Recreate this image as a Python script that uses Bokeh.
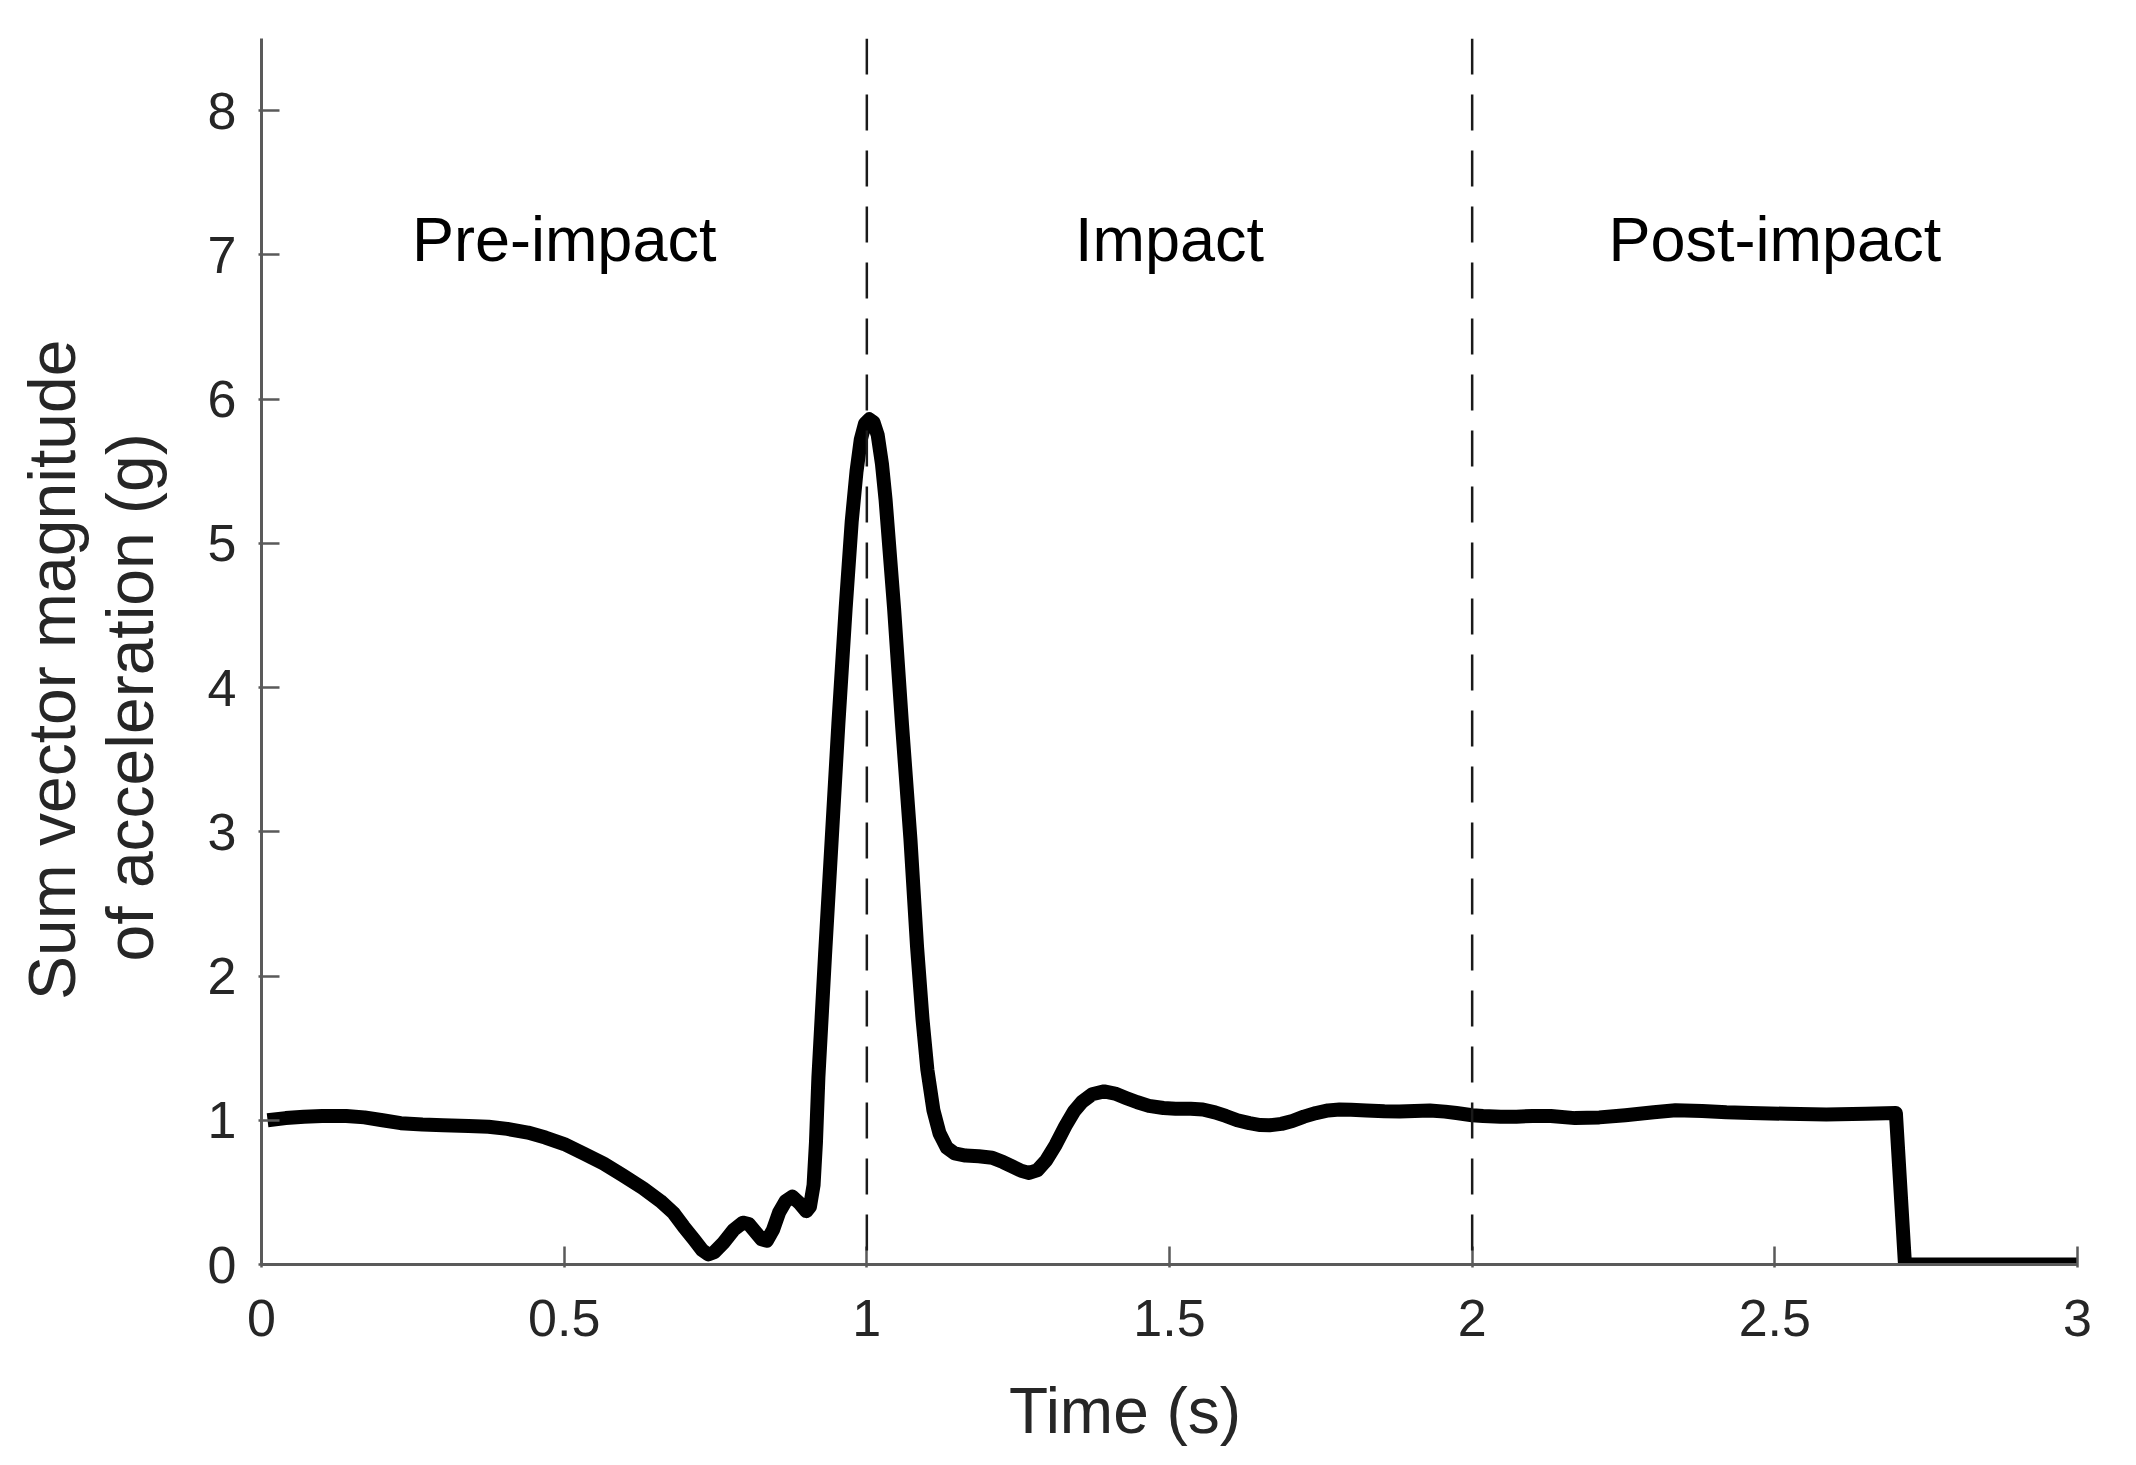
from bokeh.plotting import figure
from bokeh.models import Range1d, Span, FixedTicker, Label
from bokeh.embed import file_html
from bokeh.resources import INLINE

# Time (s)
time_s = [0.01, 0.04, 0.07, 0.10, 0.14, 0.17, 0.20, 0.23, 0.266, 0.30,
          0.342, 0.375, 0.406, 0.44, 0.469, 0.50, 0.532, 0.565, 0.596, 0.63,
          0.659, 0.68, 0.697, 0.715, 0.728, 0.738, 0.748, 0.763, 0.78, 0.795,
          0.805, 0.817, 0.826, 0.835, 0.845, 0.855, 0.866, 0.877, 0.89, 0.900,
          0.906, 0.912, 0.916, 0.920, 0.931, 0.942, 0.953, 0.965, 0.975, 0.983,
          0.990, 0.997, 1.004, 1.011, 1.018, 1.025, 1.031, 1.045, 1.058, 1.072,
          1.083, 1.092, 1.100, 1.110, 1.120, 1.132, 1.145, 1.163, 1.185, 1.207,
          1.225, 1.240, 1.255, 1.268, 1.282, 1.296, 1.312, 1.328, 1.342, 1.356,
          1.372, 1.392, 1.41, 1.428, 1.447, 1.466, 1.49, 1.51, 1.535, 1.555,
          1.575, 1.593, 1.612, 1.632, 1.650, 1.665, 1.685, 1.703, 1.722, 1.742,
          1.762, 1.781, 1.80, 1.825, 1.855, 1.880, 1.905, 1.930, 1.955, 1.974,
          2.0, 2.018, 2.047, 2.073, 2.10, 2.13, 2.17, 2.21, 2.253, 2.30,
          2.336, 2.38, 2.42, 2.46, 2.52, 2.585, 2.65, 2.70, 2.715, 3.0]
# Sum vector magnitude of acceleration (g)
svm_g = [1.0, 1.015, 1.025, 1.03, 1.03, 1.02, 1.0, 0.98, 0.97, 0.965,
         0.96, 0.955, 0.94, 0.915, 0.88, 0.835, 0.77, 0.70, 0.62, 0.53,
         0.44, 0.36, 0.265, 0.17, 0.10, 0.07, 0.085, 0.15, 0.24, 0.29,
         0.28, 0.22, 0.175, 0.165, 0.24, 0.36, 0.44, 0.47, 0.42, 0.37,
         0.40, 0.55, 0.85, 1.3, 2.15, 2.95, 3.75, 4.55, 5.15, 5.5,
         5.72, 5.83, 5.86, 5.84, 5.75, 5.55, 5.3, 4.55, 3.75, 2.95,
         2.2, 1.7, 1.35, 1.07, 0.91, 0.81, 0.77, 0.755, 0.75, 0.74,
         0.71, 0.68, 0.65, 0.635, 0.655, 0.72, 0.83, 0.96, 1.06, 1.13,
         1.18, 1.20, 1.185, 1.155, 1.125, 1.10, 1.085, 1.08, 1.08, 1.075,
         1.055, 1.03, 1.0, 0.98, 0.967, 0.965, 0.975, 0.995, 1.025, 1.05,
         1.068, 1.075, 1.073, 1.068, 1.062, 1.06, 1.065, 1.068, 1.06, 1.05,
         1.035, 1.03, 1.025, 1.025, 1.03, 1.03, 1.015, 1.02, 1.035, 1.055,
         1.07, 1.065, 1.055, 1.05, 1.045, 1.04, 1.045, 1.05, 0.0, 0.0]

phase_names = ["Pre-impact", "Impact", "Post-impact"]
phase_centers = [0.5, 1.5, 2.5]
phase_boundaries = [1.0, 2.0]

x_ticks = [0, 0.5, 1, 1.5, 2, 2.5, 3]
x_tick_labels = ["0", "0.5", "1", "1.5", "2", "2.5", "3"]
y_ticks = [0, 1, 2, 3, 4, 5, 6, 7, 8]

NB = "\u00a0"
x_title = "Time (s)" + NB * 5
y_title = "Sum vector magnitude" + NB * 2 + "\n" + "of acceleration (g)" + NB * 5

FONT = "Liberation Sans"
TXT = "#262626"

p = figure(frame_width=1816, frame_height=1226,
           x_range=Range1d(0, 3), y_range=Range1d(0, 8.5),
           output_backend="svg", toolbar_location=None,
           min_border_left=261, min_border_right=51,
           min_border_top=38, min_border_bottom=193)

p.outline_line_color = None
p.xgrid.visible = False
p.ygrid.visible = False
p.background_fill_color = "white"
p.border_fill_color = "white"

for ax in (p.xaxis[0], p.yaxis[0]):
    ax.axis_line_color = "#5a5a5a"
    ax.axis_line_width = 3
    ax.major_tick_line_color = "#5a5a5a"
    ax.major_tick_line_width = 2.5
    ax.major_tick_in = 18
    ax.major_tick_out = 3
    ax.minor_tick_line_color = None
    ax.major_label_text_font = FONT
    ax.major_label_text_font_size = "52px"
    ax.major_label_text_color = TXT
    ax.axis_label_text_font = FONT
    ax.axis_label_text_font_style = "normal"
    ax.axis_label_text_color = TXT

p.xaxis.ticker = FixedTicker(ticks=x_ticks)
p.xaxis.major_label_overrides = {t: l for t, l in zip(x_ticks, x_tick_labels)}
p.xaxis.major_label_standoff = 32
p.xaxis.axis_label = x_title
p.xaxis.axis_label_text_font_size = "64px"
p.xaxis.axis_label_standoff = 36

p.yaxis.ticker = FixedTicker(ticks=y_ticks)
p.yaxis.major_label_standoff = 22
p.yaxis.axis_label = y_title
p.yaxis.axis_label_text_font_size = "66px"
p.yaxis.axis_label_text_line_height = 1.05
p.yaxis.axis_label_standoff = 38

for b in phase_boundaries:
    p.add_layout(Span(location=b, dimension="height", line_color="#1a1a1a",
                      line_width=2.5, line_dash="36 20"))

p.line(time_s, svm_g, line_color="black", line_width=14,
       line_join="round", line_cap="butt")

for name, cx in zip(phase_names, phase_centers):
    p.add_layout(Label(x=cx, y=7.11, text=name, text_align="center",
                       text_baseline="alphabetic", text_font=FONT,
                       text_font_size="63px", text_color="black"))

open("out.html", "w").write(file_html(p, INLINE))
